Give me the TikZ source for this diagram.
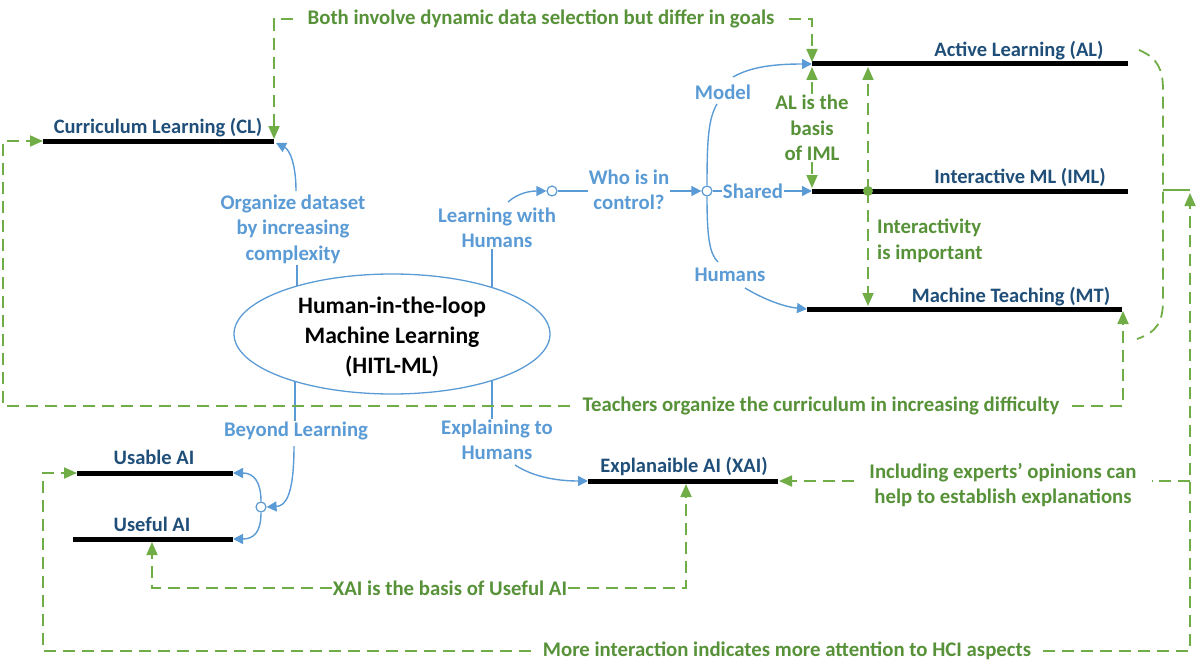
\documentclass[tikz,border=0pt]{standalone}
\usepackage{fontspec}
\setmainfont{Carlito}
\usetikzlibrary{arrows.meta,calc,shapes.geometric}
\definecolor{cblue}{HTML}{5B9BD5}
\definecolor{cdark}{HTML}{1F4E79}
\definecolor{cgreen}{HTML}{70AD47}
\definecolor{cgtext}{HTML}{579239}
\newcommand\entf{\bfseries\fontsize{20.5}{24}\selectfont}
\newcommand\labf{\bfseries\fontsize{20.8}{25.5}\selectfont}
\newcommand\ellf{\bfseries\fontsize{23.6}{30}\selectfont}
\begin{document}
\begin{tikzpicture}[x=1pt,y=-1pt,
  bar/.style={line width=5pt,black},
  ent/.style={font=\entf,text=cdark,inner sep=0pt,anchor=base},
  blab/.style={font=\labf,text=cblue,align=center,inner sep=1pt},
  glab/.style={font=\labf,text=cgtext,align=center,inner sep=1pt},
  bline/.style={cblue,line width=1.4pt},
  barr/.style={bline,-{Triangle[length=10pt,width=10pt]}},
  gline/.style={cgreen,line width=1.8pt,dash pattern=on 12pt off 7pt},
  garr/.style={gline,-{Triangle[length=13pt,width=11pt]}},
  junc/.style={circle,draw=cblue,line width=1.2pt,fill=white,minimum size=10pt,inner sep=0pt}]
\useasboundingbox (0,0) rectangle (1200,661);

% bars (entities)
\coordinate (clL) at (43,141);   \coordinate (clR) at (274,141);
\coordinate (alL) at (812,64);   \coordinate (alR) at (1128,64);
\coordinate (imlL) at (812,191); \coordinate (imlR) at (1128,191);
\coordinate (mtL) at (807,309);  \coordinate (mtR) at (1122,309);
\coordinate (usaL) at (77,473);  \coordinate (usaR) at (233,473);
\coordinate (usfL) at (73,539);  \coordinate (usfR) at (233,539);
\coordinate (xaiL) at (588,481); \coordinate (xaiR) at (778,481);
\draw[bar] (clL) -- (clR);
\draw[bar] (alL) -- (alR);
\draw[bar] (imlL) -- (imlR);
\draw[bar] (mtL) -- (mtR);
\draw[bar] (usaL) -- (usaR);
\draw[bar] (usfL) -- (usfR);
\draw[bar] (xaiL) -- (xaiR);

\node[ent] (tcl) at (158,133) {Curriculum Learning (CL)};
\node[ent] (tal) at (1019,57) {Active Learning (AL)};
\node[ent] (timl) at (1020,183) {Interactive ML (IML)};
\node[ent] (tmt) at (1011,302) {Machine Teaching (MT)};
\node[ent] (tusa) at (154,464) {Usable AI};
\node[ent] (tusf) at (152,531) {Useful AI};
\node[ent] (txai) at (684,472) {Explanaible AI (XAI)};

% central ellipse
\node[ellipse,draw=cblue,line width=1.3pt,minimum width=316pt,minimum height=120pt,inner sep=0pt] (hitl) at (392,334) {};
\node[font=\ellf,align=center,inner sep=0pt] (thitl) at (392,337) {Human-in-the-loop\\Machine Learning\\(HITL-ML)};
\coordinate (eOrg) at (297,286);
\coordinate (eLwh) at (492,288);
\coordinate (eBey) at (295,381);
\coordinate (eExp) at (492,380);

% blue labels
\node[blab] (org) at (293,229) {Organize dataset\\by increasing\\complexity};
\node[blab] (lwh) at (497,228) {Learning with\\Humans};
\node[blab] (who) at (629,190) {Who is in\\control?};
\node[blab] (model) at (723,92) {Model};
\node[blab] (shared) at (753,191) {Shared};
\node[blab] (humans) at (730,275) {Humans};
\node[blab] (beyond) at (296,431) {Beyond Learning};
\node[blab] (explain) at (497,440) {Explaining to\\Humans};

\node[junc] (c1) at (552,191) {};
\node[junc] (c2) at (707,191) {};
\node[junc] (c3) at (261,507) {};

\coordinate (orgTop) at (296,191);
\coordinate (lwhTop) at (508,202);
\coordinate (modelBot) at (717,104);
\coordinate (modelTop) at (733,77);
\coordinate (humTop) at (718,262);
\coordinate (humBot) at (745,288);
\coordinate (beyBot) at (294,446);
\coordinate (expBot) at (515,465);

% blue connectors
\draw[bline] (eOrg) -- (org.south -| eOrg);
\draw[barr] (orgTop) .. controls (296,165) and (290,150) .. ($(clR)+(2,2)$);
\draw[bline] (eLwh) -- (lwh.south -| eLwh);
\draw[barr] (lwhTop) .. controls (518,193) and (530,191) .. (c1.west);
\draw[bline] (c1.east) -- (who.west |- c1);
\draw[barr] (who.east |- c2) -- (c2.west);
\draw[bline] (c2.north) .. controls (707,135) and (709,118) .. (modelBot);
\draw[barr] (modelTop) .. controls (752,66) and (778,64) .. (alL);
\draw[bline] (c2.east) -- (shared.west);
\draw[barr] (shared.east) -- (imlL);
\draw[bline] (c2.south) .. controls (707,240) and (710,254) .. (humTop);
\draw[barr] (humBot) .. controls (765,300) and (785,307) .. (mtL);
\draw[bline] (eBey) -- (beyond.north -| eBey);
\draw[barr] (beyBot) .. controls (294,497) and (285,506) .. (c3.east);
\draw[barr] (c3.north) .. controls (261,482) and (254,473) .. (usaR);
\draw[barr] (c3.south) .. controls (261,532) and (254,539) .. (usfR);
\draw[bline] (eExp) -- (explain.north -| eExp);
\draw[barr] (expBot) .. controls (535,478) and (560,481) .. (xaiL);

% green labels
\node[glab,inner xsep=14pt] (both) at (541,19) {Both involve dynamic data selection but differ in goals};
\node[glab] (albasis) at (812,128) {AL is the\\basis\\of IML};
\node[glab,align=left,anchor=west] (inter) at (876,241) {Interactivity\\is important};
\node[glab,inner xsep=12pt] (teach) at (821,406) {Teachers organize the curriculum in increasing difficulty};
\node[glab,inner xsep=15pt] (incl) at (1003,485) {Including experts’ opinions can\\help to establish explanations};
\node[glab,inner xsep=1pt] (xbasis) at (450,588) {XAI is the basis of Useful AI};
\node[glab,inner xsep=12pt] (more) at (787,651) {More interaction indicates more attention to HCI aspects};

\coordinate (dot) at (868,191);
\coordinate (brTop) at (1139,50);
\coordinate (brBot) at (1137,339);
\coordinate (brMid) at (1163,190);
\coordinate (brOut) at (1190,190);

% green connectors
\draw[garr] (both.west) -| ($(clR)+(0,-2)$);
\draw[garr] (both.east) -| ($(alL)+(0,-2)$);
\draw[garr] (albasis.north) -- ($(alL)+(0,3)$);
\draw[garr] (albasis.south) -- ($(imlL)+(0,-3)$);
\draw[garr] (dot) -- (868,67);
\draw[garr] (dot) -- (868,306);
\fill[cgreen] (dot) circle (5pt);
\draw[gline] (brTop) .. controls (1158,58) and (1163,70) .. (1163,90) -- (1163,300) .. controls (1163,322) and (1157,332) .. (brBot);
\draw[cgreen,line width=1.8pt] (brMid) -- (brOut);
\draw[garr] (more.east) -| ($(brOut)+(0,3)$);
\draw[garr] (more.west) -| (43,473) -- (usaL);
\draw[gline] (1190,481) -- (incl.east |- xaiR);
\draw[garr] (incl.west |- xaiR) -- ($(xaiR)+(1,0)$);
\draw[garr] (teach.east) -| ($(mtR)+(1,2)$);
\draw[garr] (teach.west) -| (3,141) -- (clL);
\draw[garr] (xbasis.west) -| ($(usfL)!0.5!(usfR)+(-1,3)$);
\draw[garr] (xbasis.east) -| (686,484);
\end{tikzpicture}
\end{document}
